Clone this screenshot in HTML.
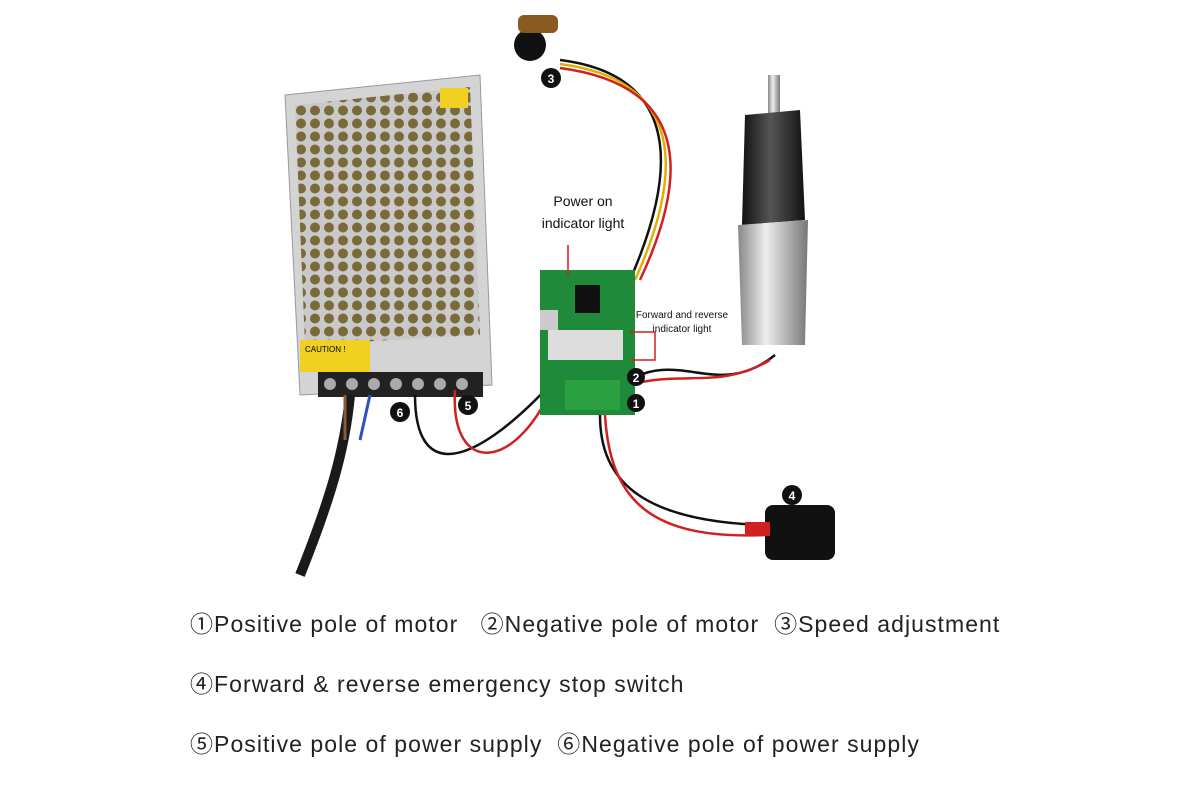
<!DOCTYPE html>
<html><head><meta charset="utf-8"><style>
body{margin:0;width:1200px;height:800px;background:#fff;overflow:hidden;position:relative;font-family:"Liberation Sans","Noto Sans CJK JP",sans-serif}
.t{position:absolute;left:190px;font-size:23px;color:#222;letter-spacing:1.05px;white-space:pre}
</style></head><body>
<svg width="1200" height="600" style="position:absolute;left:0;top:0">
<defs>
<pattern id="h" width="14" height="13" patternUnits="userSpaceOnUse">
<rect width="14" height="13" fill="#c9c9c9"/><circle cx="7" cy="6.5" r="5" fill="#7a6a3a"/>
</pattern>
<linearGradient id="m" x1="0" x2="1"><stop offset="0" stop-color="#888"/><stop offset=".4" stop-color="#eee"/><stop offset="1" stop-color="#777"/></linearGradient>
<linearGradient id="mb" x1="0" x2="1"><stop offset="0" stop-color="#111"/><stop offset=".45" stop-color="#555"/><stop offset="1" stop-color="#111"/></linearGradient>
</defs>
<polygon points="285,95 480,75 492,385 300,395" fill="#d4d4d4" stroke="#999"/>
<polygon points="295,105 470,87 480,335 305,345" fill="url(#h)"/>
<rect x="300" y="340" width="70" height="32" fill="#f0d020"/>
<text x="305" y="352" font-size="8" fill="#000">CAUTION !</text>
<rect x="440" y="88" width="28" height="20" fill="#f0d020"/>
<rect x="318" y="372" width="165" height="25" fill="#222"/>
<g fill="#aaa"><circle cx="330" cy="384" r="6"/><circle cx="352" cy="384" r="6"/><circle cx="374" cy="384" r="6"/><circle cx="396" cy="384" r="6"/><circle cx="418" cy="384" r="6"/><circle cx="440" cy="384" r="6"/><circle cx="462" cy="384" r="6"/></g>
<path d="M350,395 C345,450 330,500 300,575" stroke="#1a1a1a" stroke-width="10" fill="none"/>
<path d="M345,395 L345,440" stroke="#8a5a3a" stroke-width="3"/>
<path d="M370,395 L360,440" stroke="#3050c0" stroke-width="3"/>
<path d="M415,395 C415,480 470,470 550,385" stroke="#111" stroke-width="2.5" fill="none"/>
<path d="M455,390 C450,480 520,470 555,380" stroke="#d02020" stroke-width="2.5" fill="none"/>
<path d="M600,415 C600,480 640,520 760,525" stroke="#111" stroke-width="2.5" fill="none"/>
<path d="M605,415 C610,500 650,540 765,535" stroke="#d02020" stroke-width="2.5" fill="none"/>
<path d="M630,380 C680,350 720,400 775,355" stroke="#111" stroke-width="2.5" fill="none"/>
<path d="M630,385 C680,370 720,390 770,360" stroke="#d02020" stroke-width="2.5" fill="none"/>
<path d="M560,60 C640,70 700,120 630,280" stroke="#111" stroke-width="2.5" fill="none"/>
<path d="M560,64 C645,75 705,125 635,280" stroke="#e0b000" stroke-width="2.5" fill="none"/>
<path d="M560,68 C650,80 710,130 640,280" stroke="#d02020" stroke-width="2.5" fill="none"/>
<circle cx="530" cy="45" r="16" fill="#111"/><rect x="518" y="15" width="40" height="18" rx="6" fill="#8a5a20"/>
<rect x="540" y="270" width="95" height="145" fill="#1e8a3a"/>
<rect x="575" y="285" width="25" height="28" fill="#111"/>
<rect x="548" y="330" width="75" height="30" fill="#ddd"/>
<rect x="565" y="380" width="55" height="30" fill="#2aa040"/>
<rect x="540" y="310" width="18" height="20" fill="#ccc"/>
<circle cx="551" cy="78" r="10" fill="#111"/><text x="551" y="83" font-size="12" fill="#fff" text-anchor="middle" font-weight="bold">3</text>
<circle cx="400" cy="412" r="10" fill="#111"/><text x="400" y="417" font-size="12" fill="#fff" text-anchor="middle" font-weight="bold">6</text>
<circle cx="468" cy="405" r="10" fill="#111"/><text x="468" y="410" font-size="12" fill="#fff" text-anchor="middle" font-weight="bold">5</text>
<circle cx="636" cy="377" r="9" fill="#111"/><text x="636" y="382" font-size="12" fill="#fff" text-anchor="middle" font-weight="bold">2</text>
<circle cx="636" cy="403" r="9" fill="#111"/><text x="636" y="408" font-size="12" fill="#fff" text-anchor="middle" font-weight="bold">1</text>
<circle cx="792" cy="495" r="10" fill="#111"/><text x="792" y="500" font-size="12" fill="#fff" text-anchor="middle" font-weight="bold">4</text>
<text x="583" y="206" font-size="14" fill="#111" text-anchor="middle">Power on</text>
<text x="583" y="228" font-size="14" fill="#111" text-anchor="middle">indicator light</text>
<text x="682" y="318" font-size="10" fill="#111" text-anchor="middle">Forward and reverse</text>
<text x="682" y="332" font-size="10" fill="#111" text-anchor="middle">indicator light</text>
<path d="M568,245 V275 M630,332 H655 V360 H630" stroke="#d02020" stroke-width="1.5" fill="none"/>
<rect x="768" y="75" width="12" height="40" fill="url(#m)"/>
<polygon points="745,115 800,110 805,220 742,225" fill="url(#mb)"/>
<polygon points="738,225 808,220 805,345 742,345" fill="url(#m)"/>
<rect x="765" y="505" width="70" height="55" rx="8" fill="#111"/>
<rect x="745" y="522" width="25" height="14" fill="#d02020"/>
</svg>
<div class="t" style="top:605px">①Positive pole of motor   ②Negative pole of motor  ③Speed adjustment</div>
<div class="t" style="top:665px">④Forward &amp; reverse emergency stop switch</div>
<div class="t" style="top:725px">⑤Positive pole of power supply  ⑥Negative pole of power supply</div>
</body></html>
